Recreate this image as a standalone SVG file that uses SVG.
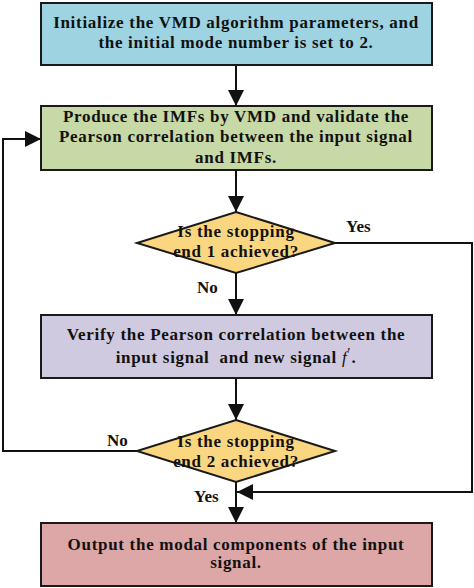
<svg xmlns="http://www.w3.org/2000/svg" width="474" height="588" viewBox="0 0 474 588">
<defs>
<style>
.box{stroke:#1a1a1a;stroke-width:2}
.t{font-family:"Liberation Serif","Times New Roman",serif;font-weight:bold;font-size:17px;letter-spacing:0.7px;fill:#111;text-anchor:middle}
.l{font-family:"Liberation Serif","Times New Roman",serif;font-weight:bold;font-size:17px;fill:#111}
.c{fill:none;stroke:#111;stroke-width:2}
</style>
<marker id="ahb" viewBox="0 0 10 10" refX="10" refY="5" markerWidth="16" markerHeight="16" markerUnits="userSpaceOnUse" orient="auto">
<path d="M0,0 L10,5 L0,10 Z" fill="#111"/>
</marker>
</defs>
<rect width="474" height="588" fill="#fff"/>
<g id="connectors">
<line class="c" x1="236" y1="65" x2="236" y2="106" marker-end="url(#ahb)"/>
<line class="c" x1="236" y1="170" x2="236" y2="212" marker-end="url(#ahb)"/>
<line class="c" x1="236" y1="273" x2="236" y2="315" marker-end="url(#ahb)"/>
<line class="c" x1="236" y1="378" x2="236" y2="420" marker-end="url(#ahb)"/>
<line class="c" x1="236" y1="482" x2="236" y2="523" marker-end="url(#ahb)"/>
<polyline class="c" points="335,243 472,243 472,492 237,492" marker-end="url(#ahb)"/>
<polyline class="c" points="137,451 3,451 3,139 41,139" marker-end="url(#ahb)"/>
<text class="l" x="346" y="232">Yes</text>
<text class="l" x="197" y="293">No</text>
<text class="l" x="107" y="446">No</text>
<text class="l" x="194" y="502">Yes</text>
</g>
<g id="n1">
<rect class="box" x="41" y="3" width="391" height="62" fill="#9ed3e1"/>
<text class="t" x="236" y="28">Initialize the VMD algorithm parameters, and</text>
<text class="t" x="236" y="48">the initial mode number is set to 2.</text>
</g>
<g id="n2">
<rect class="box" x="41" y="106" width="391" height="64" fill="#c7d9a6"/>
<text class="t" x="236" y="122">Produce the IMFs by VMD and validate the</text>
<text class="t" x="236" y="142">Pearson correlation between the input signal</text>
<text class="t" x="236" y="163">and IMFs.</text>
</g>
<g id="d1">
<polygon class="box" points="236,212 335,243 236,273 137,243" fill="#fbd680"/>
<text class="t" x="236" y="237">Is the stopping</text>
<text class="t" x="236" y="257">end 1 achieved?</text>
</g>
<g id="n3">
<rect class="box" x="41" y="315" width="391" height="63" fill="#cfcae0"/>
<text class="t" x="236" y="340">Verify the Pearson correlation between the</text>
<text class="t" x="236" y="363" xml:space="preserve">input signal  and new signal <tspan font-style="italic" font-weight="normal">f</tspan><tspan dy="-7" font-size="12">′</tspan><tspan dy="7">.</tspan></text>
</g>
<g id="d2">
<polygon class="box" points="236,420 335,451 236,482 137,451" fill="#fbd680"/>
<text class="t" x="236" y="447">Is the stopping</text>
<text class="t" x="236" y="467">end 2 achieved?</text>
</g>
<g id="n4">
<rect class="box" x="41" y="523" width="391" height="63" fill="#dca7a6"/>
<text class="t" x="236" y="550">Output the modal components of the input</text>
<text class="t" x="236" y="568">signal.</text>
</g>
</svg>
